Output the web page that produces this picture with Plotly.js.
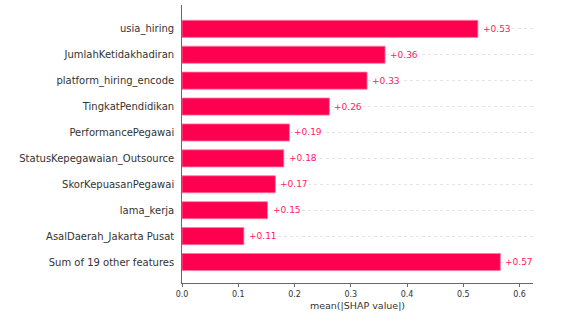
<!DOCTYPE html>
<html>
<head>
<meta charset="utf-8">
<script src="https://cdn.plot.ly/plotly-3.0.1.min.js"></script>
<style>html,body{margin:0;padding:0;background:#fff;}#chart{width:572px;height:322px;}</style>
</head>
<body>
<div id="chart"></div>
<script>
const features = [
  "usia_hiring",
  "JumlahKetidakhadiran",
  "platform_hiring_encode",
  "TingkatPendidikan",
  "PerformancePegawai",
  "StatusKepegawaian_Outsource",
  "SkorKepuasanPegawai",
  "lama_kerja",
  "AsalDaerah_Jakarta Pusat",
  "Sum of 19 other features"
];
const meanAbsShap = [0.526, 0.361, 0.329, 0.262, 0.191, 0.181, 0.166, 0.152, 0.110, 0.566];
const valueLabels = meanAbsShap.map(v => "+" + v.toFixed(2));
const xTicks = [0, 0.1, 0.2, 0.3, 0.4, 0.5, 0.6];

const red = "#ff0051";
const trace = {
  type: "bar",
  orientation: "h",
  y: features,
  x: meanAbsShap,
  width: 0.66,
  marker: {color: red, line: {color: "#ff7a9f", width: 0.8}},
  hoverinfo: "none"
};

const annotations = features.map((f, i) => ({
  x: meanAbsShap[i], y: f, xref: "x", yref: "y",
  text: valueLabels[i], showarrow: false,
  xanchor: "left", yanchor: "middle", xshift: 4,
  font: {family: "DejaVu Sans", size: 9, color: "#ff1a62"},
  bgcolor: "#ffffff", borderpad: 0
}));

const layout = {
  width: 572, height: 322,
  margin: {l: 182, r: 39, t: 5, b: 39},
  paper_bgcolor: "#fff", plot_bgcolor: "#fff",
  showlegend: false,
  font: {family: "DejaVu Sans", color: "#333"},
  xaxis: {
    range: [0, 0.624],
    tickvals: xTicks,
    ticktext: xTicks.map(v => v.toFixed(1)),
    ticks: "outside", ticklen: 3.5, tickwidth: 0.8, tickcolor: "#444",
    tickfont: {size: 8, color: "#333"},
    showline: true, linecolor: "#444", linewidth: 0.8,
    showgrid: false, zeroline: false,
    title: {text: "mean(|SHAP value|)", font: {size: 9.5, color: "#333"}, standoff: 4}
  },
  yaxis: {
    type: "category",
    categoryorder: "array", categoryarray: features,
    range: [9.81, -0.92],
    ticks: "", ticklabelstandoff: 5,
    tickfont: {size: 10, color: "#333"},
    showline: true, linecolor: "#444", linewidth: 0.8,
    showgrid: true, gridcolor: "#d4d4d4", gridwidth: 0.6, griddash: "dot",
    zeroline: false
  },
  annotations: annotations
};

Plotly.newPlot("chart", [trace], layout, {displayModeBar: false, staticPlot: true});
</script>
</body>
</html>
